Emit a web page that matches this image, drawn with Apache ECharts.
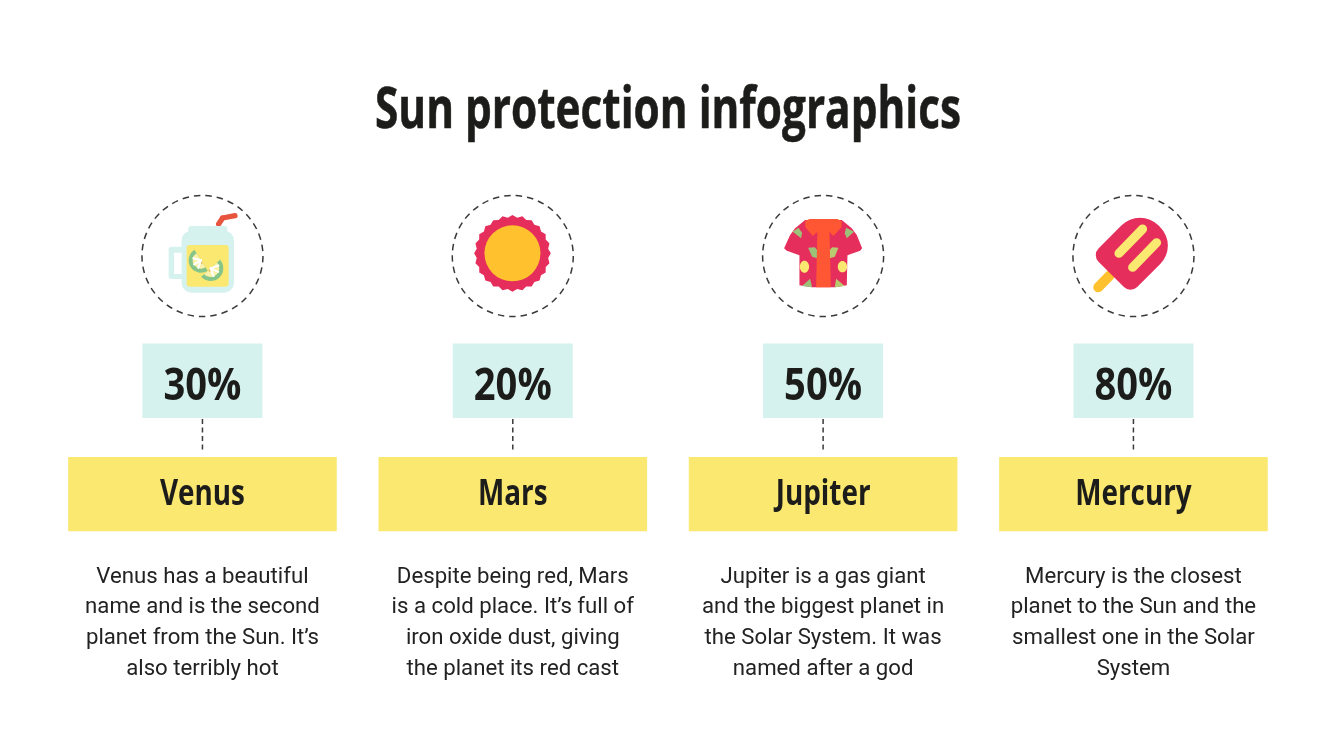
<!DOCTYPE html>
<html><head><meta charset="utf-8">
<style>html,body{margin:0;padding:0;background:#fff}#c{width:1336px;height:752px}</style>
<script src="https://cdn.jsdelivr.net/npm/echarts@6/dist/echarts.min.js"></script>
</head><body><div id="c"></div>
<script>
const chartTitle = 'Sun protection infographics';
const planets = ['Venus', 'Mars', 'Jupiter', 'Mercury'];
const percents = [30, 20, 50, 80];
const blurbs = [
  ['Venus has a beautiful', 'name and is the second', 'planet from the Sun. It\u2019s', 'also terribly hot'],
  ['Despite being red, Mars', 'is a cold place. It\u2019s full of', 'iron oxide dust, giving', 'the planet its red cast'],
  ['Jupiter is a gas giant', 'and the biggest planet in', 'the Solar System. It was', 'named after a god'],
  ['Mercury is the closest', 'planet to the Sun and the', 'smallest one in the Solar', 'System']
];

const RED = '#e62e5c', SUN = '#ffc12e', PALE = '#fbe871', MINT = '#d5f2ef', INK = '#1c1c1a', DASH = '#3a3a3a';
const HEAD = '"Open Sans",sans-serif';

// horizontal squeeze that gives the condensed headline look with an installed font
const ctx = document.createElement('canvas').getContext('2d');
const fit = (text, size, target) => { ctx.font = `700 ${size}px "Open Sans"`; return target / ctx.measureText(text).width; };
const TITLE_SX = fit(chartTitle, 58, 586), PCT_SX = fit('30%', 45, 78), NAME_SX = fit('Venus', 35, 85);

const poly = (points, fill) => ({type: 'polygon', shape: {points}, style: {fill}});
const rrect = (x, y, width, height, r, fill) => ({type: 'rect', shape: {x, y, width, height, r}, style: {fill}});
const bar = (x1, y1, x2, y2, w, stroke) => ({type: 'line', shape: {x1, y1, x2, y2}, style: {stroke, lineWidth: w, lineCap: 'round'}});
const dot = (cx, cy, rx, ry, fill) => ({type: 'ellipse', shape: {cx, cy, rx, ry}, style: {fill}});
const sector = (cx, cy, r, a, b, fill) => ({type: 'sector', shape: {cx, cy, r, r0: 0, startAngle: a * Math.PI / 180, endAngle: b * Math.PI / 180}, style: {fill}});
const rays = (cx, cy, r, angles) => angles.map(a => bar(cx, cy, cx + r * Math.cos(a * Math.PI / 180), cy + r * Math.sin(a * Math.PI / 180), 6, '#fff'));

function jar() {
  return [
    bar(296, 132, 308, 114, 16, '#e8553f'), bar(308, 114, 345, 107, 16, '#e8553f'),
    rrect(146, 200, 60, 97, 8, MINT), rrect(162, 218, 30, 64, 2, '#fff'),
    rrect(205, 138, 117, 30, 8, MINT), rrect(185, 152, 157, 186, 30, MINT),
    rrect(200, 195, 126, 125, 10, PALE),
    sector(243, 241, 37, 57, 238, '#86c58a'), sector(243, 241, 25, 57, 238, '#fdf0a8'),
    sector(243, 241, 10, 60, 130, '#f2a93b'), ...rays(243, 241, 24, [110, 150, 195]),
    sector(272, 265, 38, -42, 138, '#86c58a'), sector(272, 265, 26, -42, 138, '#fdf0a8'),
    sector(272, 265, 10, 90, 130, '#f2a93b'), ...rays(272, 265, 25, [-20, 25, 70])
  ];
}
function sun() {
  const pts = [], n = 48;
  for (let i = 0; i < n; i++) {
    const a = i / n * 2 * Math.PI, r = i % 2 ? 108 : 115;
    pts.push([1178 + r * Math.cos(a), 220 + r * Math.sin(a)]);
  }
  return [poly(pts, RED), {type: 'circle', shape: {cx: 1178, cy: 220, r: 84}, style: {fill: SUN}}];
}
function shirt() {
  const leaf = '#9cc27a', leaf2 = '#b9c96f';
  return [
    poly([[195, 120], [305, 120], [335, 145], [350, 165], [366, 205], [360, 212], [322, 226], [320, 316], [285, 322], [215, 322], [178, 316], [178, 226], [140, 212], [132, 205], [150, 165], [165, 145]], RED),
    poly([[158, 155], [175, 143], [186, 158], [183, 175]], leaf),
    poly([[342, 155], [318, 143], [314, 160], [320, 175]], leaf),
    poly([[204, 203], [224, 202], [238, 218], [236, 236], [216, 230]], leaf),
    poly([[295, 203], [276, 202], [262, 218], [264, 236], [284, 230]], leaf2),
    dot(193, 260, 14, 18, PALE), dot(307, 260, 14, 17, PALE),
    poly([[186, 318], [210, 296], [216, 322]], leaf),
    poly([[314, 318], [288, 296], [284, 322]], leaf2),
    poly([[232, 150], [268, 150], [272, 322], [228, 322]], '#ff5733'),
    poly([[195, 124], [208, 117], [292, 117], [305, 124], [304, 142], [280, 168], [262, 150], [238, 150], [218, 168], [196, 142]], '#ff5733')
  ];
}
function popsicle() {
  return [
    bar(1075, 322, 1110, 286, 30, SUN),
    {type: 'rect', x: 1186, y: 211, rotation: -Math.PI / 4,
     shape: {x: -82, y: -102, width: 164, height: 204, r: [78, 78, 28, 28]}, style: {fill: RED}},
    bar(1137, 220, 1208, 147, 27, PALE),
    bar(1178, 262, 1250, 188, 27, PALE)
  ];
}
// icon drawing + its drawing origin relative to the column centre
const icons = [[jar, -82.5], [sun, -393], [shirt, -83], [popsicle, -393.5]];

function renderItem(params, api) {
  const i = params.dataIndex, cx = api.coord([api.value(0), 0])[0];
  const txt = (text, y, font, size, weight, fill, sx) => ({type: 'text', x: cx, y, scaleX: sx || 1,
    style: {text, fontFamily: font, fontSize: size, fontWeight: weight, fill, align: 'center', verticalAlign: 'middle'}});
  const [draw, ox] = icons[i];
  return {type: 'group', children: [
    {type: 'circle', shape: {cx, cy: 256, r: 60.5}, style: {fill: 'none', stroke: DASH, lineWidth: 1.5, lineDash: [6.5, 5]}},
    {type: 'group', x: cx + ox, y: 180, scaleX: 1 / 3, scaleY: 1 / 3, children: draw()},
    {type: 'rect', shape: {x: cx - 60, y: 343.5, width: 120, height: 74.5}, style: {fill: MINT}},
    {type: 'line', shape: {x1: cx, y1: 419, x2: cx, y2: 453}, style: {stroke: DASH, lineWidth: 1.5, lineDash: [5, 3.5]}},
    {type: 'rect', shape: {x: cx - 134.3, y: 457, width: 268.6, height: 74.3}, style: {fill: PALE}},
    txt(api.value(1) + '%', 387.5, HEAD, 45, 700, INK, PCT_SX),
    txt(planets[i], 495.5, HEAD, 35, 700, INK, NAME_SX),
    ...blurbs[i].map((line, k) => txt(line, 575.5 + k * 30.7 + 1.5, 'Roboto', 22.2, 400, '#222'))
  ]};
}

const chart = echarts.init(document.getElementById('c'), null, {renderer: 'canvas'});
chart.setOption({
  animation: false,
  backgroundColor: '#fff',
  graphic: [{type: 'text', x: 668, y: 111, scaleX: TITLE_SX,
    style: {text: chartTitle, fontFamily: HEAD, fontSize: 58, fontWeight: 700, fill: INK,
      stroke: INK, lineWidth: 0.6, align: 'center', verticalAlign: 'middle'}}],
  grid: {left: 47.3, width: 1241.3, top: 0, bottom: 0},
  xAxis: {type: 'category', data: planets, show: false},
  yAxis: {type: 'value', min: 0, max: 100, show: false},
  series: [{type: 'custom', renderItem, clip: false,
    data: percents.map((v, i) => [i, v])}]
});
</script></body></html>
